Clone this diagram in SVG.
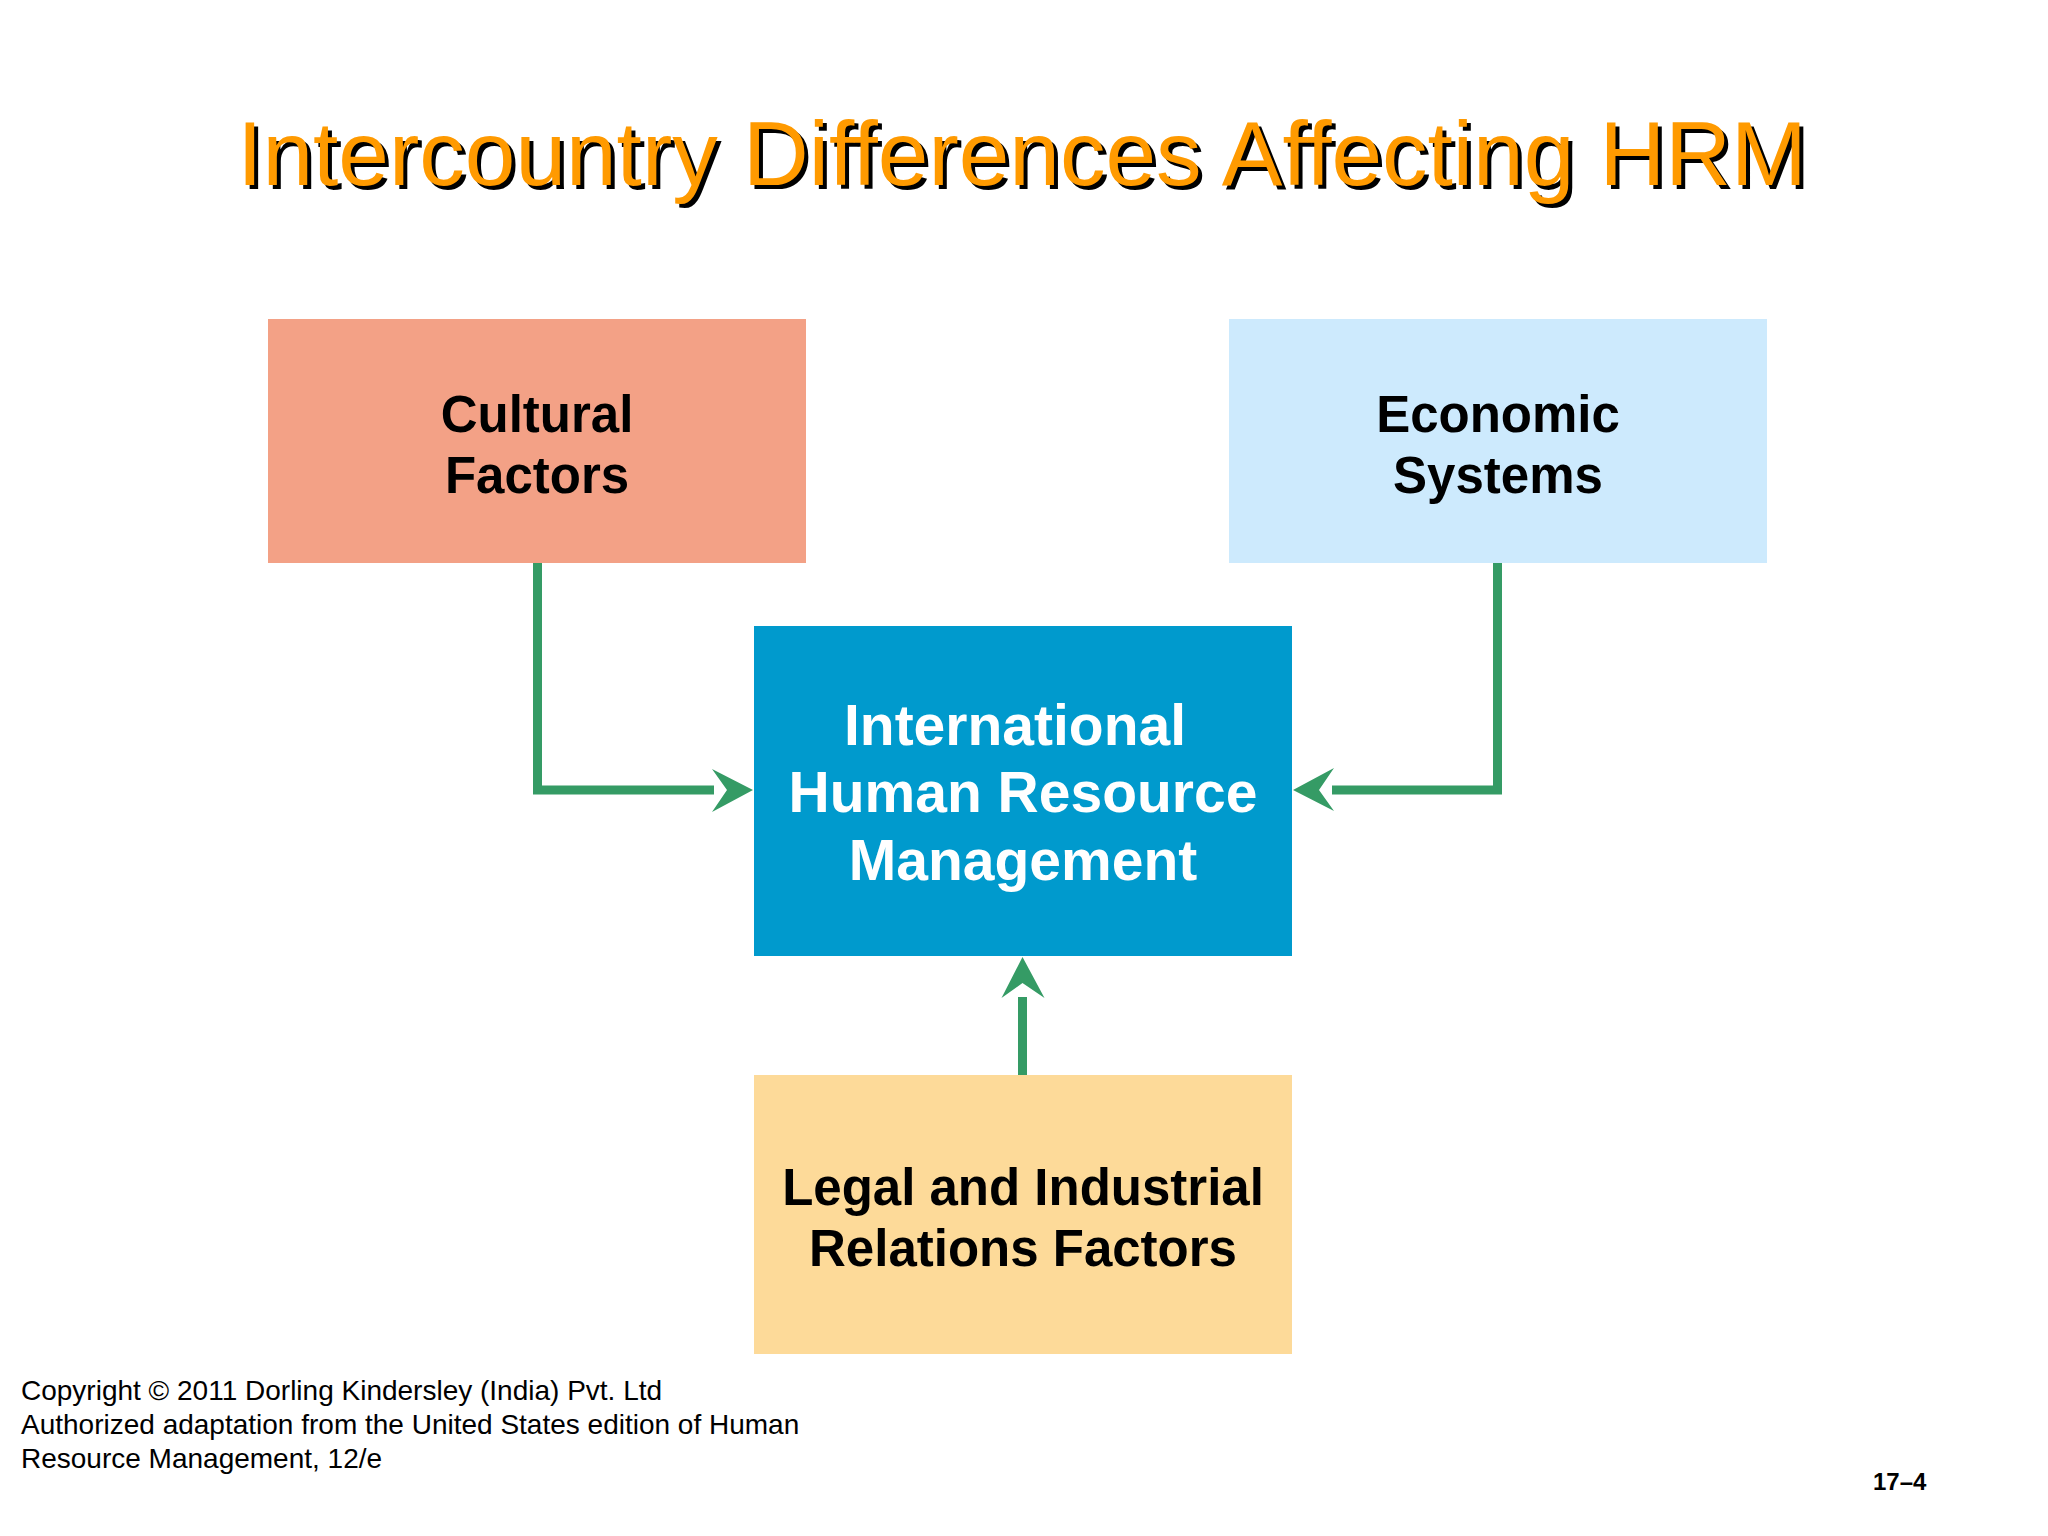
<svg xmlns="http://www.w3.org/2000/svg" xmlns:xlink="http://www.w3.org/1999/xlink" width="2048" height="1536" viewBox="0 0 2048 1536">
<style>
.title{font-family:"Liberation Sans",Arial,sans-serif;font-size:91px;text-anchor:middle}
.lbl{font-family:"Liberation Sans",Arial,sans-serif;font-weight:bold;font-size:51px;text-anchor:middle;fill:#000}
.lblw{font-family:"Liberation Sans",Arial,sans-serif;font-weight:bold;font-size:57px;text-anchor:middle;fill:#fff}
.foot{font-family:"Liberation Sans",Arial,sans-serif;font-size:28px;fill:#000}
.page{font-family:"Liberation Sans",Arial,sans-serif;font-size:24px;font-weight:bold;fill:#000}
.line{fill:none;stroke:#359B65;stroke-width:9}
.head{fill:#359B65}
</style>
<defs>
<polygon id="ah" points="0,0 -41,-21 -26,0 -41,22"/>
</defs>
<rect width="2048" height="1536" fill="#fff"/>
<g id="title">
<text class="title" x="1026" y="189" fill="#000">Intercountry Differences Affecting HRM</text>
<text class="title" x="1022" y="185" fill="#FF9A00">Intercountry Differences Affecting HRM</text>
</g>
<g id="cultural">
<rect x="268" y="319" width="538" height="244" fill="#F3A186"/>
<text class="lbl" x="537" y="432">Cultural</text>
<text class="lbl" x="537" y="493">Factors</text>
</g>
<g id="economic">
<rect x="1229" y="319" width="538" height="244" fill="#CDEAFD"/>
<text class="lbl" x="1498" y="432">Economic</text>
<text class="lbl" x="1498" y="493">Systems</text>
</g>
<g id="ihrm">
<rect x="754" y="626" width="538" height="330" fill="#009ACD"/>
<text class="lblw" x="1015" y="745">International</text>
<text class="lblw" x="1023" y="812">Human Resource</text>
<text class="lblw" x="1023" y="880">Management</text>
</g>
<g id="legal">
<rect x="754" y="1075" width="538" height="279" fill="#FDDA99"/>
<text class="lbl" x="1023" y="1205">Legal and Industrial</text>
<text class="lbl" x="1023" y="1266">Relations Factors</text>
</g>
<g id="connectors">
<path class="line" d="M537.5 563 V790 H714"/>
<use xlink:href="#ah" class="head" transform="translate(753,790)"/>
<path class="line" d="M1497.5 563 V790 H1332"/>
<use xlink:href="#ah" class="head" transform="translate(1293,790) rotate(180)"/>
<path class="line" d="M1022.5 1075 V997"/>
<use xlink:href="#ah" class="head" transform="translate(1022.5,957) rotate(-90)"/>
</g>
<g id="footer">
<text class="foot" x="21" y="1400">Copyright © 2011 Dorling Kindersley (India) Pvt. Ltd</text>
<text class="foot" x="21" y="1434">Authorized adaptation from the United States edition of Human</text>
<text class="foot" x="21" y="1468">Resource Management, 12/e</text>
<text class="page" x="1873" y="1490">17–4</text>
</g>
</svg>
